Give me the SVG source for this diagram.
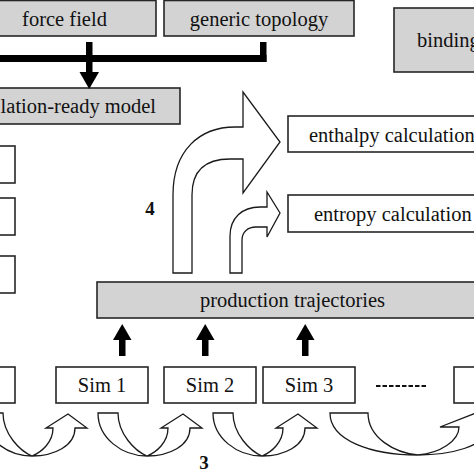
<svg xmlns="http://www.w3.org/2000/svg" xmlns:xlink="http://www.w3.org/1999/xlink" width="474" height="474" viewBox="0 0 474 474">
<style>
.g{fill:#d3d3d3;stroke:#262626;stroke-width:1.6}
.w{fill:#ffffff;stroke:#262626;stroke-width:1.6}
.a{fill:#ffffff;stroke:#1a1a1a;stroke-width:1.3;stroke-linejoin:miter}
.t{font-family:"Liberation Serif","Times New Roman",serif;font-size:20.5px;fill:#111}
.b{font-family:"Liberation Serif","Times New Roman",serif;font-size:19px;font-weight:bold;fill:#111}
.k{fill:#000;stroke:none}
</style>
<defs>
<path id="curv" d="M-49,-43 C-49,-18 -25,0 0,0 C22,0 43,-10 43,-28 L55,-28 L36,-42 L14,-28 L21,-28 C21,-14 10,-4 0,0 C-12,-5 -29,-22 -29,-43 Z"/>
</defs>
<rect width="474" height="474" fill="#ffffff"/>

<g id="force-field"><rect class="g" x="-27" y="0.5" width="183" height="35.5"/><text class="t" x="64.5" y="25.5" text-anchor="middle">force field</text></g>
<g id="generic-topology"><rect class="g" x="164" y="0.5" width="190" height="35.5"/><text class="t" x="259" y="25.5" text-anchor="middle">generic topology</text></g>
<g id="binding"><rect class="g" x="394" y="8" width="100" height="64"/><text class="t" x="417" y="46.5">binding</text></g>
<g id="model"><rect class="g" x="-30" y="88" width="210" height="36"/><text class="t" x="156" y="113" text-anchor="end">lation-ready model</text></g>

<g id="left-box-1"><rect class="w" x="-20" y="146" width="35" height="37"/></g>
<g id="left-box-2"><rect class="w" x="-20" y="198" width="35" height="37"/></g>
<g id="left-box-3"><rect class="w" x="-20" y="256" width="35" height="37"/></g>

<g id="enthalpy"><rect class="w" x="288" y="116" width="200" height="36"/><text class="t" x="309" y="141.5">enthalpy calculation</text></g>
<g id="entropy"><rect class="w" x="288" y="195" width="200" height="37"/><text class="t" x="314" y="220.5">entropy calculation</text></g>
<g id="production"><rect class="g" x="97" y="282" width="393" height="36"/><text class="t" x="200" y="306.5">production trajectories</text></g>

<g id="sim-0"><rect class="w" x="-20" y="367" width="35" height="36"/></g>
<g id="sim-1"><rect class="w" x="56" y="367" width="92" height="36"/><text class="t" x="102" y="392" text-anchor="middle">Sim 1</text></g>
<g id="sim-2"><rect class="w" x="164" y="367" width="92" height="36"/><text class="t" x="210" y="392" text-anchor="middle">Sim 2</text></g>
<g id="sim-3"><rect class="w" x="263" y="367" width="92" height="36"/><text class="t" x="309" y="392" text-anchor="middle">Sim 3</text></g>
<g id="sim-n"><rect class="w" x="454" y="367" width="40" height="36"/></g>

<g id="connectors">
  <!-- top merge connector -->
  <rect class="k" x="86" y="42" width="6.5" height="31"/>
  <rect class="k" x="260" y="42" width="6.5" height="20"/>
  <rect class="k" x="-2" y="55" width="268.5" height="7"/>
  <polygon class="k" points="79.5,72 99,72 89.2,89"/>
  <!-- up arrows -->
  <g>
    <rect class="k" x="119" y="338" width="6.5" height="18"/>
    <polygon class="k" points="113,340 131.5,340 122.2,324"/>
    <rect class="k" x="202" y="338" width="6.5" height="18"/>
    <polygon class="k" points="196,340 214.5,340 205.2,324"/>
    <rect class="k" x="302" y="338" width="6.5" height="18"/>
    <polygon class="k" points="296,340 314.5,340 305.2,324"/>
  </g>
  <!-- bent arrows to calculations -->
  <path class="a" d="M173,273 L173,195 C173,150 200,127 235,127 L243,127 L243,92 L280,142 L243,193 L243,159 L230,159 C205,159 192,170 192,195 L192,273 Z"/>
  <path class="a" d="M230,273 L230,236 C230,218 242,207 260,207 L267,207 L267,192 L280,213 L267,237 L267,227 L256,227 C248,227 242,232 242,240 L242,273 Z"/>
  <!-- curved arrows between sims -->
  <use xlink:href="#curv" class="a" transform="translate(32,456)"/>
  <use xlink:href="#curv" class="a" transform="translate(147,456)"/>
  <use xlink:href="#curv" class="a" transform="translate(262,456)"/>
  <path class="a" d="M330,413 C330,440 370,455 418,455 C448,455 488,447 488,427 L500,427 L476,413 L440,427 L459,427 C459,441 440,453 418,455 C395,453 368,438 368,413 Z"/>
  <!-- ellipsis -->
  <line x1="376" y1="386" x2="426" y2="386" stroke="#111" stroke-width="2" stroke-dasharray="4.5,2"/>
</g>

<text class="b" x="150" y="215" text-anchor="middle">4</text>
<text class="b" x="204" y="469" text-anchor="middle">3</text>
</svg>
